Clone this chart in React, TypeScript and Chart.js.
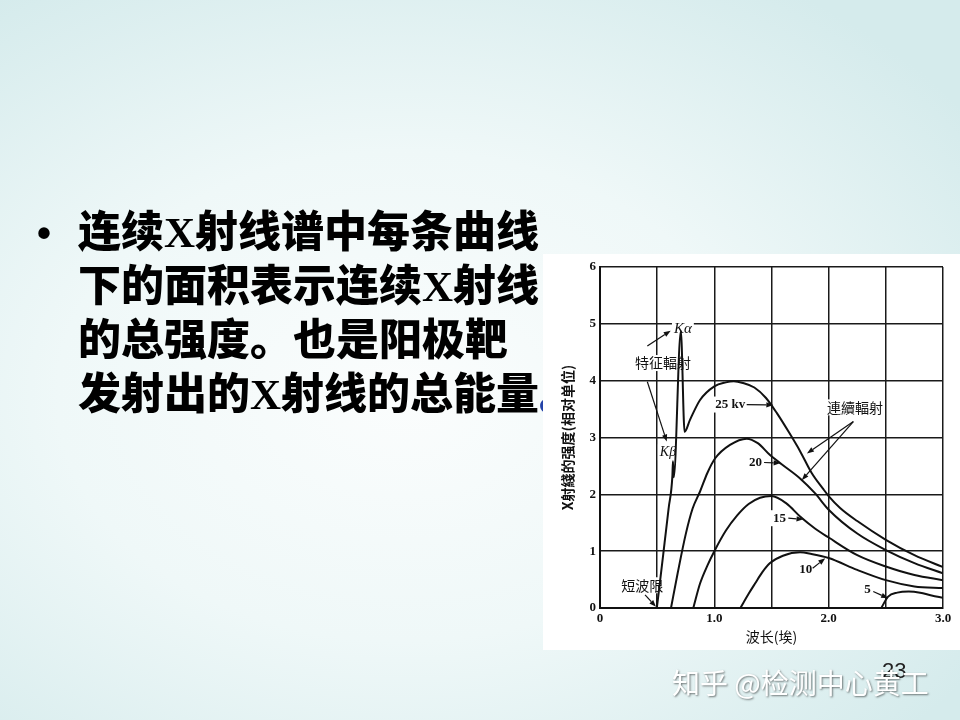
import React, { useEffect, useRef } from "react";
import { Chart, registerables } from "chart.js";

Chart.register(...registerables);

// ---------- data ----------
const kv25X = [0.497, 0.53, 0.565, 0.6, 0.633, 0.638, 0.645, 0.707, 0.74, 0.787, 0.875, 1.0, 1.1, 1.17, 1.25, 1.35, 1.45, 1.55, 1.65, 1.75, 1.85, 1.95, 2.0, 2.1, 2.25, 2.5, 2.75, 3.0];
const kv25Y = [0, 0.55, 1.15, 1.75, 2.32, 2.58, 2.3, 4.87, 3.1, 3.31, 3.66, 3.9, 3.97, 3.99, 3.96, 3.88, 3.7, 3.42, 3.1, 2.76, 2.38, 2.1, 1.97, 1.76, 1.53, 1.2, 0.93, 0.72];

const kv20X = [0.621, 0.68, 0.75, 0.81, 0.875, 0.94, 1.006, 1.137, 1.283, 1.38, 1.487, 1.589, 1.75, 1.88, 2.0, 2.25, 2.5, 2.75, 3.0];
const kv20Y = [0, 0.62, 1.3, 1.75, 2.05, 2.38, 2.63, 2.87, 2.98, 2.9, 2.69, 2.53, 2.28, 2.02, 1.73, 1.31, 1.02, 0.79, 0.61];

const kv15X = [0.816, 0.875, 0.94, 1.0, 1.1, 1.2, 1.3, 1.4, 1.5, 1.63, 1.75, 1.88, 2.0, 2.25, 2.5, 2.75, 3.0];
const kv15Y = [0, 0.43, 0.75, 1.0, 1.36, 1.63, 1.83, 1.94, 1.97, 1.84, 1.61, 1.4, 1.24, 0.93, 0.73, 0.58, 0.49];

const kv10X = [1.228, 1.3, 1.356, 1.42, 1.487, 1.6, 1.75, 1.85, 2.0, 2.25, 2.5, 2.75, 3.0];
const kv10Y = [0, 0.25, 0.43, 0.63, 0.79, 0.92, 0.98, 0.95, 0.88, 0.67, 0.49, 0.38, 0.35];

const kv5X = [2.46, 2.52, 2.6, 2.7, 2.8, 2.9, 3.0];
const kv5Y = [0, 0.2, 0.27, 0.29, 0.27, 0.22, 0.18];

const xTickValues = [0, 1, 2, 3];
const xTickLabels = ["0", "1.0", "2.0", "3.0"];

const xTitle = "波长(埃)";
const yTitle = "X射綫的强度(相对单位)";

const bulletLines = [
  "连续X射线谱中每条曲线",
  "下的面积表示连续X射线",
  "的总强度。也是阳极靶",
  "发射出的X射线的总能量",
];

// annotations (in data units)
const SERIF = '"Liberation Serif", "DejaVu Serif", serif';
const CJK = '"Noto Sans CJK SC", sans-serif';
const labelTexts = ["Kα", "特征輻射", "Kβ", "25 kv", "20", "15", "10", "5", "連續輻射", "短波限"];
const labelX = [0.725, 0.55, 0.595, 1.14, 1.36, 1.57, 1.8, 2.34, 2.23, 0.37];
const labelY = [4.9, 4.31, 2.74, 3.58, 2.56, 1.58, 0.68, 0.32, 3.53, 0.4];
const labelFonts = [
  `italic 15px ${SERIF}`,
  `14px ${CJK}`,
  `italic 14px ${SERIF}`,
  `bold 13px ${SERIF}`,
  `bold 13px ${SERIF}`,
  `bold 13px ${SERIF}`,
  `bold 13px ${SERIF}`,
  `bold 13px ${SERIF}`,
  `14px ${CJK}`,
  `14px ${CJK}`,
];

const arrowFrom: [number, number][] = [
  [0.414, 4.61], [0.414, 3.98], [1.283, 3.58], [1.435, 2.56], [1.647, 1.58],
  [1.86, 0.7], [2.39, 0.29], [2.216, 3.28], [2.216, 3.28], [0.394, 0.23],
];
const arrowTo: [number, number][] = [
  [0.618, 4.88], [0.584, 2.93], [1.516, 3.57], [1.58, 2.55], [1.78, 1.56],
  [1.97, 0.875], [2.52, 0.17], [1.81, 2.72], [1.765, 2.25], [0.49, 0.02],
];

const zip = (xs: number[], ys: number[]) => xs.map((x, i) => ({ x, y: ys[i] }));

const annotationPlugin = {
  id: "annots",
  beforeDatasetsDraw(chart: any) {
    const { ctx, scales } = chart;
    const sx = scales.x, sy = scales.y;
    ctx.save();
    ctx.textAlign = "center";
    ctx.textBaseline = "middle";
    labelTexts.forEach((t, i) => {
      ctx.font = labelFonts[i];
      const px = sx.getPixelForValue(labelX[i]);
      const py = sy.getPixelForValue(labelY[i]);
      const w = ctx.measureText(t).width;
      ctx.fillStyle = "#ffffff";
      ctx.fillRect(px - w / 2 - 2, py - 8, w + 4, 16);
      ctx.fillStyle = "#111111";
      ctx.fillText(t, px, py);
    });
    ctx.restore();
  },
  afterDatasetsDraw(chart: any) {
    const { ctx, scales } = chart;
    const sx = scales.x, sy = scales.y;
    ctx.save();
    ctx.strokeStyle = "#111";
    ctx.fillStyle = "#111";
    ctx.lineWidth = 1.2;
    arrowFrom.forEach((f, i) => {
      const t = arrowTo[i];
      const x1 = sx.getPixelForValue(f[0]), y1 = sy.getPixelForValue(f[1]);
      const x2 = sx.getPixelForValue(t[0]), y2 = sy.getPixelForValue(t[1]);
      const ang = Math.atan2(y2 - y1, x2 - x1);
      const L = 7, W = 2.6;
      const bx = x2 - L * Math.cos(ang), by = y2 - L * Math.sin(ang);
      ctx.beginPath();
      ctx.moveTo(x1, y1);
      ctx.lineTo(bx, by);
      ctx.stroke();
      ctx.beginPath();
      ctx.moveTo(x2, y2);
      ctx.lineTo(bx + W * Math.sin(ang), by - W * Math.cos(ang));
      ctx.lineTo(bx - W * Math.sin(ang), by + W * Math.cos(ang));
      ctx.closePath();
      ctx.fill();
    });
    ctx.restore();
  },
};

export default function App() {
  const ref = useRef<HTMLCanvasElement>(null);

  useEffect(() => {
    const mk = (xs: number[], ys: number[]) => ({
      data: zip(xs, ys),
      borderColor: "#111",
      borderWidth: 2,
      pointRadius: 0,
      fill: false,
      cubicInterpolationMode: "monotone" as const,
    });
    const chart = new Chart(ref.current!, {
      type: "line",
      data: {
        datasets: [mk(kv25X, kv25Y), mk(kv20X, kv20Y), mk(kv15X, kv15Y), mk(kv10X, kv10Y), mk(kv5X, kv5Y)],
      },
      options: {
        animation: false,
        responsive: false,
        devicePixelRatio: 1,
        layout: { padding: { top: 13, right: 17, left: 0, bottom: 0 } },
        plugins: { legend: { display: false }, tooltip: { enabled: false } },
        scales: {
          x: {
            type: "linear",
            min: 0,
            max: 3,
            afterFit: (s: any) => { s.height = 42; },
            grid: { color: "#1a1a1a", lineWidth: 1.5, drawTicks: false },
            border: { color: "#111", width: 2 },
            ticks: {
              stepSize: 0.5,
              autoSkip: false,
              maxRotation: 0,
              padding: 3,
              color: "#111",
              font: { family: SERIF, size: 13, weight: "bold" },
              callback: (v: any) => {
                const i = xTickValues.indexOf(Number(v));
                return i >= 0 ? xTickLabels[i] : "";
              },
            },
            title: {
              display: true,
              text: xTitle,
              color: "#111",
              font: { family: CJK, size: 14 },
              padding: { top: 0, bottom: 5 },
            },
          },
          y: {
            type: "linear",
            min: 0,
            max: 6,
            afterFit: (s: any) => { s.width = 57; },
            grid: { color: "#1a1a1a", lineWidth: 1.5, drawTicks: false },
            border: { color: "#111", width: 2 },
            ticks: {
              stepSize: 1,
              padding: 4,
              color: "#111",
              font: { family: SERIF, size: 13, weight: "bold" },
            },
            title: {
              display: true,
              text: yTitle,
              color: "#111",
              font: { family: CJK, size: 14, weight: "bold" },
              padding: { top: 16, bottom: 0 },
            },
          },
        },
      },
      plugins: [annotationPlugin],
    } as any);
    return () => chart.destroy();
  }, []);

  const textFont = '"Liberation Serif", "Noto Sans CJK SC", serif';
  const lineTops = [206, 260, 314, 368];

  return (
    <div
      style={{
        position: "fixed",
        left: 0,
        top: 0,
        width: 960,
        height: 720,
        overflow: "hidden",
        background:
          "radial-gradient(ellipse 72% 68% at 42% 55%, #fbfdfd 0%, #eff8f8 50%, #d5ebec 100%)",
      }}
    >
      <div
        style={{
          position: "absolute",
          left: 37,
          top: 206,
          fontSize: 40,
          lineHeight: "54px",
          color: "#000",
          fontFamily: '"Liberation Sans", sans-serif',
          fontWeight: "bold",
        }}
      >
        •
      </div>
      {bulletLines.map((t, i) => (
        <div
          key={i}
          style={{
            position: "absolute",
            left: 78,
            top: lineTops[i],
            fontSize: 43,
            lineHeight: "54px",
            fontWeight: 900,
            color: "#000",
            fontFamily: textFont,
            whiteSpace: "nowrap",
          }}
        >
          {t}
          {i === 3 ? <span style={{ color: "#2443a8" }}>。</span> : null}
        </div>
      ))}
      <div
        style={{
          position: "absolute",
          left: 543,
          top: 254,
          width: 417,
          height: 396,
          background: "#ffffff",
        }}
      >
        <canvas ref={ref} width={417} height={396} style={{ display: "block", width: 417, height: 396 }} />
      </div>
      <div
        style={{
          position: "absolute",
          left: 882,
          top: 658,
          fontSize: 22,
          color: "#222",
          fontFamily: '"Liberation Sans", sans-serif',
        }}
      >
        23
      </div>
      <div
        style={{
          position: "absolute",
          left: 672,
          top: 664,
          fontSize: 28,
          lineHeight: "36px",
          color: "#ffffff",
          fontFamily: '"Noto Sans CJK SC", sans-serif',
          textShadow: "1px 1px 2px rgba(0,0,0,0.5)",
          whiteSpace: "nowrap",
        }}
      >
        知乎 @检测中心黄工
      </div>
    </div>
  );
}
